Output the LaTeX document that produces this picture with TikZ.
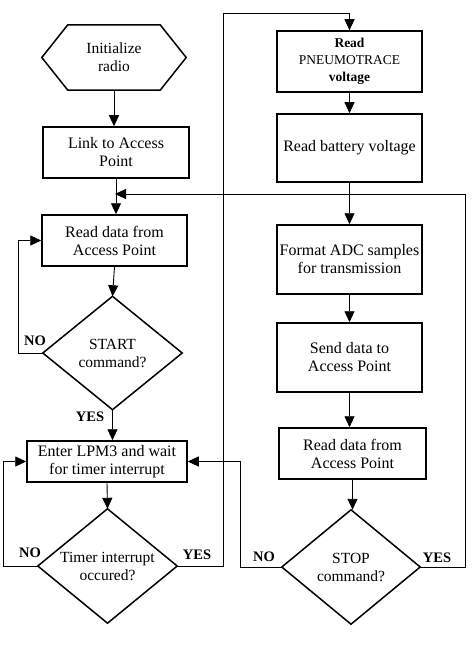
\documentclass[tikz,border=0pt]{standalone}
\usepackage{fontspec}
\setmainfont{Liberation Serif}
\usetikzlibrary{arrows.meta}
\begin{document}
\begin{tikzpicture}[x=1pt,y=-1pt,
  box/.style={draw, line width=1.5pt, inner sep=0pt, align=center, font=\fontsize{16}{18}\selectfont},
  ghost/.style={inner sep=0pt, align=center, font=\fontsize{15.5}{18}\selectfont},
  outline/.style={line width=1.5pt, line join=miter},
  conn/.style={line width=0.9pt},
  arr/.style={conn, -{Triangle[length=11pt,width=10pt]}},
  lbl/.style={font=\bfseries\fontsize{14.5}{16}\selectfont, inner sep=0pt}]
\useasboundingbox[fill=white] (0,0) rectangle (474,647);

% ---- left column ----
\node[ghost, minimum width=144pt, minimum height=65pt] (init) at (114,57.5) {Initialize\\radio};
\draw[outline] (init.west) -- ([xshift=26pt]init.north west) -- ([xshift=-26pt]init.north east)
  -- (init.east) -- ([xshift=-26pt]init.south east) -- ([xshift=26pt]init.south west) -- cycle;

\node[box, minimum width=146pt, minimum height=51pt] (link) at (116,152.5) {Link to Access\\Point};
\node[box, minimum width=145pt, minimum height=51pt] (read1) at (114.5,240.5) {Read data from\\Access Point};

\node[ghost, minimum width=139pt, minimum height=113pt] (start) at (112.5,353) {START\\command?};
\draw[outline] (start.west) -- (start.north) -- (start.east) -- (start.south) -- cycle;

\node[box, minimum width=160pt, minimum height=41pt] (lpm) at (107,461.5) {Enter LPM3 and wait\\for timer interrupt};

\node[ghost, minimum width=139pt, minimum height=114pt] (timer) at (107.5,566) {Timer interrupt\\occured?};
\draw[outline] (timer.west) -- (timer.north) -- (timer.east) -- (timer.south) -- cycle;

% ---- right column ----
\node[box, minimum width=145pt, minimum height=61pt, font=\fontsize{13.5}{17}\selectfont] (pneu) at (349.5,61.5)
  {\textbf{Read}\\PNEUMOTRACE\\\textbf{voltage}};
\node[box, minimum width=145pt, minimum height=68pt] (batt) at (349.5,148) {Read battery voltage};
\node[box, minimum width=145pt, minimum height=69pt] (fmt) at (349.5,259.5) {Format ADC samples\\for transmission};
\node[box, minimum width=145pt, minimum height=69pt] (send) at (349.5,357.5) {Send data to\\Access Point};
\node[box, minimum width=147pt, minimum height=51pt] (read2) at (352.5,453.5) {Read data from\\Access Point};

\node[ghost, minimum width=138pt, minimum height=114pt] (stop) at (351,567) {STOP\\command?};
\draw[outline] (stop.west) -- (stop.north) -- (stop.east) -- (stop.south) -- cycle;

% ---- helper coordinates ----
\coordinate (ytop) at (223,13);
\coordinate (merge) at (115,194);

% ---- connectors ----
\draw[arr] (init.south) -- (init.south |- link.north);
\draw[arr] (link.south) -- (link.south |- read1.north);
\draw[arr] (read1.south) -- (start.north);
\draw[arr] (start.west) -- ++(-24,0) |- (read1.west);
\draw[arr] (start.south) -- (start.south |- lpm.north);
\draw[arr] (lpm.south) -- (timer.north);
\draw[arr] (timer.west) -- ++(-34,0) |- (lpm.west);
\draw[arr] (timer.east) -| (ytop) -| (pneu.north);

\draw[arr] (pneu.south) -- (batt.north);
\draw[arr] (batt.south) -- (fmt.north);
\draw[arr] (fmt.south) -- (send.north);
\draw[arr] (send.south) -- (send.south |- read2.north);
\draw[arr] (read2.south) -- (read2.south |- stop.north);
\draw[arr] (stop.west) -- ++(-41,0) |- (lpm.east);
\draw[arr] (stop.east) -- ++(45,0) |- (merge);

% ---- labels ----
\node[lbl] (n1) at (35,341) {NO};
\node[lbl] (y1) at (90,417) {YES};
\node[lbl] (n2) at (30,553) {NO};
\node[lbl] (y2) at (197,555) {YES};
\node[lbl] (n3) at (264,557) {NO};
\node[lbl] (y3) at (437,558) {YES};
\end{tikzpicture}
\end{document}
